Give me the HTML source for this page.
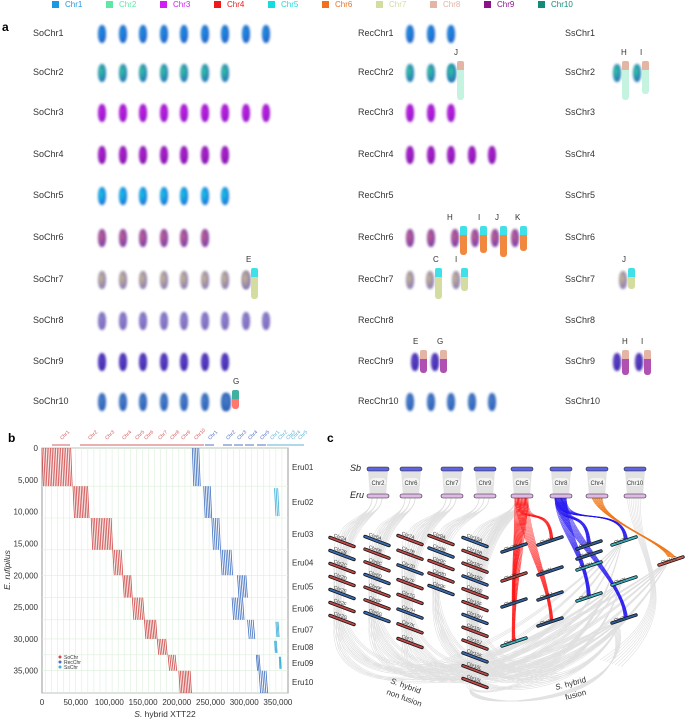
<!DOCTYPE html>
<html><head><meta charset="utf-8"><style>
body{margin:0;background:#fff;width:685px;height:719px;overflow:hidden;position:relative;font-family:"Liberation Sans",Arial,sans-serif}
.lbl{position:absolute;font-size:9px;color:#333}
.pl{position:absolute;font-weight:bold;font-size:12px;color:#000}
.blob{position:absolute;border-radius:45%;filter:blur(1.2px)}
.let{position:absolute;font-size:8px;color:#333}
svg{position:absolute;left:0;top:0}
</style></head><body>
<div id="legend"></div>
<div class="pl" style="left:2px;top:20px">a</div>
<div class="pl" style="left:8px;top:431px">b</div>
<div class="pl" style="left:327px;top:431px">c</div>
<div id="pa"></div>
<svg id="pb" width="685" height="719"></svg>
<svg id="pc" width="685" height="719"></svg>
<script>
const legNames=['Chr1','Chr2','Chr3','Chr4','Chr5','Chr6','Chr7','Chr8','Chr9','Chr10'];
const legColors=['#1e96e6','#5ee8a6','#d21ef2','#f01818','#16dce0','#f07020','#d4dca0','#e4b4a4','#8c128c','#108c78'];
const rowY=[34,73,113,155,196,238,280,321,362,402];
const soCounts=[9,7,9,7,7,6,8,9,7,7];
const recCounts=[3,3,3,5,0,2,1,0,0,5];
const blobCol=[['#1e8ee0','#2050c0'],['#30c8a0','#2050c0'],['#c020e0','#8010c0'],['#b020d0','#7010a0'],['#10c8e8','#2050d0'],['#c06090','#6030b0'],['#c8b890','#7060c0'],['#9080d0','#7060b0'],['#6040c8','#3020a0'],['#4880c8','#2050b0']];
const leg=document.getElementById('legend');
legNames.forEach((n,i)=>{
 const e=document.createElement('div');
 
 
 e.style.cssText=`position:absolute;left:${52+i*54}px;top:0px;font-size:8px;color:${legColors[i]};white-space:nowrap`;
 e.innerHTML=`<span style="display:inline-block;width:7px;height:7px;background:${legColors[i]};margin-right:6px;vertical-align:-1px"></span>${n}`;
 leg.appendChild(e);
});
const pa=document.getElementById('pa');
function add(html,name){const d=document.createElement('div');d.innerHTML=html;const e=d.firstChild;
pa.appendChild(e);return e;}
function blob(x,y,r){return `<div class="blob" style="left:${x-4}px;top:${y-9}px;width:8px;height:18px;background:radial-gradient(ellipse at 40% 40%,${blobCol[r][0]},${blobCol[r][1]})"></div>`;}
function fbar(x,y,top,body,len){return `<div style="position:absolute;left:${x}px;top:${y-12}px;width:7px"><div style="height:9px;background:${top};border-radius:2px 2px 0 0"></div><div style="height:${len}px;background:${body};border-radius:0 0 3px 3px"></div></div>`;}
rowY.forEach((y,r)=>{
 add(`<div class="lbl" style="left:33px;top:${y-6}px">SoChr${r+1}</div>`,'so-label');
 add(`<div class="lbl" style="left:358px;top:${y-6}px">RecChr${r+1}</div>`,'rec-label');
 add(`<div class="lbl" style="left:565px;top:${y-6}px">SsChr${r+1}</div>`,'ss-label');
 for(let k=0;k<soCounts[r];k++) add(blob(102+k*20.5,y,r),'so-chromosome');
 for(let k=0;k<recCounts[r];k++) add(blob(410+k*20.5,y,r),'rec-chromosome');
});
const fb=[
 [251,280,'#40e0e8','#d4dca0',22,'E',6,246],[232,402,'#40b0a0','#ff7870',10,'G',9,233],
 [457,73,'#e4b4a4','#c4f4e0',30,'J',1,454],
 [460,238,'#40e0e8','#f08840',20,'H',5,447],[480,238,'#40e0e8','#f08840',18,'I',5,478],[500,238,'#40e0e8','#f08840',22,'J',5,495],[520,238,'#40e0e8','#f08840',16,'K',5,515],
 [435,280,'#40e0e8','#d4dca0',22,'C',6,433],[461,280,'#40e0e8','#d4dca0',14,'I',6,455],
 [420,362,'#e4b4a4','#b050b0',14,'E',8,413],[440,362,'#e4b4a4','#b050b0',14,'G',8,437],
 [622,73,'#e4b4a4','#c4f4e0',30,'H',1,621],[642,73,'#e4b4a4','#c4f4e0',24,'I',1,640],
 [628,280,'#40e0e8','#d4dca0',12,'J',6,622],
 [622,362,'#e4b4a4','#b050b0',16,'H',8,622],[644,362,'#e4b4a4','#b050b0',16,'I',8,641]];
fb.forEach(f=>{
 add(blob(f[0]-5,f[1],f[6]),'fusion-chromosome');
 add(fbar(f[0],f[1],f[2],f[3],f[4]),'fusion-bar');
 add(`<div class="let" style="left:${f[7]}px;top:${f[1]-25}px">${f[5]}</div>`,'fusion-letter');
});
// ---------- panel b
const NS='http://www.w3.org/2000/svg';
function el(p,t,a,name){const e=document.createElementNS(NS,t);for(const k in a)e.setAttribute(k,a[k]);

p.appendChild(e);return e;}
const pb=document.getElementById('pb');
const X0=42,X1=288,Y0=448,Y1=693,XMAX=365000,YMAX=38500;
const sx=v=>X0+v/XMAX*(X1-X0), sy=v=>Y0+v/YMAX*(Y1-Y0);
const eruNames=['Eru01','Eru02','Eru03','Eru04','Eru05','Eru06','Eru07','Eru08','Eru09','Eru10'];
const eruBounds=[0,6000,11000,16000,20000,23500,27000,30000,32500,35000,38500];
const soStart=[0,46000,73000,105000,120000,134000,152000,171000,187000,203000];
const soEnd=[45000,70000,105000,120000,134000,152000,171000,186000,200000,222000];
const recStart=[223000,240000,252000,265000,290000,282000,305000,0,318000,322000];
const recEnd=[235000,252000,265000,283000,305000,300000,316000,0,324000,335000];
const ssStart=[0,345000,0,0,0,0,347000,345000,352000,0];
const ssEnd=[0,352000,0,0,0,0,352000,349000,355000,0];
const xTicks=[0,50000,100000,150000,200000,250000,300000,350000];
const yTicks=[0,5000,10000,15000,20000,25000,30000,35000];
el(pb,'rect',{x:X0,y:Y0,width:X1-X0,height:Y1-Y0,fill:'#fff',stroke:'#999','stroke-width':1},'plot-area');
for(let v=5000;v<XMAX;v+=9000) el(pb,'line',{x1:sx(v),x2:sx(v),y1:Y0,y2:Y1,stroke:'#dcefdc','stroke-width':0.6},'grid-x');
eruBounds.forEach(v=>el(pb,'line',{x1:X0,x2:X1,y1:sy(v),y2:sy(v),stroke:'#dcefdc','stroke-width':0.6},'grid-y'));
function blk(a,b,y0,y1,col){
 const n=Math.max(3,Math.round((b-a)/2500));
 for(let i=0;i<n;i++){const xa=a+(b-a)*i/n,xb=a+(b-a)*(i+0.9)/n;
  el(pb,'line',{x1:sx(xa),y1:sy(y0),x2:sx(xb),y2:sy(y1),stroke:col,'stroke-width':0.8},'synteny-dots');}
}
for(let i=0;i<10;i++){
 blk(soStart[i],soEnd[i],eruBounds[i],eruBounds[i+1],'#d04848');
 if(recEnd[i]) blk(recStart[i],recEnd[i],eruBounds[i],eruBounds[i+1],'#4070c0');
 if(ssEnd[i]) blk(ssStart[i],ssEnd[i],eruBounds[i]+300,eruBounds[i+1]-300,'#40b0d8');
 el(pb,'text',{x:292,y:(sy(eruBounds[i])+sy(eruBounds[i+1]))/2+3,'font-size':8,fill:'#333'},'eru-label').textContent=eruNames[i];
}
xTicks.forEach(v=>el(pb,'text',{x:sx(v),y:705,'font-size':8,'text-anchor':'middle',fill:'#333'},'x-tick').textContent=v.toLocaleString('en-US'));
yTicks.forEach(v=>el(pb,'text',{x:38,y:sy(v)+3,'font-size':8,'text-anchor':'end',fill:'#333'},'y-tick').textContent=v.toLocaleString('en-US'));
el(pb,'text',{x:165,y:717,'font-size':8.5,'text-anchor':'middle',fill:'#333'},'x-axis-title').innerHTML='<tspan font-style="italic">S.</tspan> hybrid XTT22';
el(pb,'text',{x:10,y:570,'font-size':8.5,'text-anchor':'middle',fill:'#333',transform:'rotate(-90 10 570)','font-style':'italic'},'y-axis-title').textContent='E. rufipilus';
const topX=[62,90,107,124,137,146,160,172,183,196,210,228,239,250,262,272,280,288,293,300];
topX.forEach((x,i)=>{const c=i<10?'#d06060':(i<15?'#5070c0':'#60b0d8');
 el(pb,'line',{x1:x-(i<10?10:5),x2:x+(i<10?8:4),y1:445,y2:445,stroke:c,'stroke-width':1},'chr-track');
 el(pb,'text',{x:x,y:440,'font-size':5,fill:c,transform:`rotate(-45 ${x} 440)`},'chr-track-label').textContent='Chr'+((i<10?i:i<15?i-10:i-15)+1);});
[['SoChr','#d04848'],['RecChr','#4070c0'],['SsChr','#40b0d8']].forEach((l,i)=>{
 el(pb,'circle',{cx:60,cy:657+i*5,r:1.5,fill:l[1]},'legend-dot');
 el(pb,'text',{x:64,y:659+i*5,'font-size':5,fill:'#333'},'legend-label').textContent=l[0];});
// ---------- panel c
const pc=document.getElementById('pc');
const topNames=['Chr2','Chr6','Chr7','Chr9','Chr5','Chr8','Chr4','Chr10'];
const topCx=[378,411,452,485,522,561,597,635];
const colNames=[['2A','2B','2C','2D','2E','2F','2G'],['6A','6B','6C','6D','6E','6F','6G'],['7A','7B','7D','7F','7G','7H','7K','7L'],['9A','9B','9C','9D','9F'],['10A','10B','10C','10D','10E','10F','10H','10I','10J','10K','10L','10L']];
const colX=[330,365,398,429,463];
const colY0=[542,541,540,540,542], colY1=[620,617,643,590,683];
const rightNames=['7C','7E','7I','7J','6H','6I','6J','6K','9E','9G','9H','9I','2H','2I','2J','10G'];
const rightX=[502,502,502,502,538,538,538,538,577,577,577,577,612,612,612,659];
const rightY=[548,577,603,642,541,571,596,622,545,555,566,597,541,581,619,561];
const rightCol=['#3060a0','#c04848','#3060a0','#40b8c8','#3060a0','#3060a0','#3060a0','#3060a0','#3060a0','#3060a0','#40b8c8','#40b8c8','#40b8c8','#40b8c8','#3060a0','#d06050'];
const g=el(pc,'g',{fill:'none',stroke:'#d4d4d4','stroke-width':0.6,opacity:0.7},'gray-ribbons');
colX.forEach((cx,c)=>{const n=colNames[c].length;for(let k=0;k<n;k++){const y=colY0[c]+(colY1[c]-colY0[c])*k/(n-1);
 for(let j=0;j<3;j++){const t=topCx[c]-6+j*5;
  el(g,'path',{d:`M${t},498 C${t},520 ${cx+10},515 ${cx+8+j*3},${y}`},'ribbon');
  el(g,'path',{d:`M${cx+5+j*3},${y} C${cx-10},700 ${cx+120},${712-j*4} ${rightX[15-(k%4)]+10},${rightY[15-(k%4)]}`},'ribbon-arc');}}});
for(let j=0;j<8;j++){el(g,'path',{d:`M${topCx[7]-8+j*2},498 C${topCx[7]},560 690,600 ${600+j*3},${660+j}`},'ribbon');
 el(g,'path',{d:`M${612+j},${625} C640,700 ${500-j*5},${715} ${470},${690}`},'ribbon-arc');}
function bundle(col,fx,tx,ty,n,w){for(let j=0;j<n;j++){const f=fx-w+j*(2*w/n);
 el(pc,'path',{d:`M${f},498 C${f},530 ${tx+10},${ty-40} ${tx+10+j*0.3},${ty}`,fill:'none',stroke:col,'stroke-width':0.4},'colored-ribbon');}}
bundle('#ff1010',522,502,603,12,7);bundle('#ff1010',522,502,642,12,7);bundle('#ff1010',522,540,541,12,7);bundle('#ff1010',522,540,622,12,7);
bundle('#2010f0',561,577,545,14,6);bundle('#2010f0',561,577,597,14,6);bundle('#2010f0',561,614,541,14,6);bundle('#2010f0',561,614,619,14,6);
for(let j=0;j<16;j++)el(pc,'path',{d:`M${592+j*0.7},498 C${600},520 660,540 ${668+j*0.5},557`,fill:'none',stroke:'#f07818','stroke-width':0.5},'colored-ribbon');
topCx.forEach((x,i)=>{
 el(pc,'path',{d:`M${x-10},470 L${x+10},470 L${x+8},496 L${x-8},496Z`,fill:'#e2e2e2'},'sb-eru-link');
 el(pc,'rect',{x:x-11,y:467,width:22,height:4,rx:2,fill:'#6064e0',stroke:'#222','stroke-width':0.6},'sb-bar');
 el(pc,'rect',{x:x-11,y:494,width:22,height:4,rx:2,fill:'#e0b8e8',stroke:'#222','stroke-width':0.6},'eru-bar');
 el(pc,'rect',{x:x-8,y:478,width:16,height:8,rx:4,fill:'#f4f4f4'},'chr-label-bg');
 el(pc,'text',{x:x,y:485,'font-size':6,'text-anchor':'middle',fill:'#333'},'top-chr-label').textContent=topNames[i];});
el(pc,'text',{x:350,y:471,'font-size':9,'font-style':'italic',fill:'#222'},'sb-label').textContent='Sb';
el(pc,'text',{x:350,y:498,'font-size':9,'font-style':'italic',fill:'#222'},'eru-label').textContent='Eru';
function tbar(x,y,dir,col,name){const dy=dir*5;
 el(pc,'line',{x1:x,y1:y-dy,x2:x+24,y2:y+dy,stroke:'#111','stroke-width':3.4,'stroke-linecap':'round'},'chr-bar');
 el(pc,'line',{x1:x,y1:y-dy,x2:x+24,y2:y+dy,stroke:col,'stroke-width':1.8,'stroke-linecap':'round'},'chr-bar-fill');
 el(pc,'text',{x:x+3,y:y-dy-1,'font-size':4.8,fill:'#333',transform:`rotate(${dir*22} ${x+3} ${y-dy})`},'chr-bar-label').textContent='Chr'+name;}
colX.forEach((cx,c)=>{const n=colNames[c].length;for(let k=0;k<n;k++){const y=colY0[c]+(colY1[c]-colY0[c])*k/(n-1);
 tbar(cx,y,0.9,(k+c)%3==1?'#3a6ab0':'#c04848',colNames[c][k]);}});
rightNames.forEach((n,i)=>tbar(rightX[i],rightY[i],-0.8,rightCol[i],n));
el(pc,'text',{x:390,y:683,'font-size':8,fill:'#333',transform:'rotate(20 390 683)'},'non-fusion-label').innerHTML='<tspan font-style="italic">S.</tspan> hybrid';
el(pc,'text',{x:386,y:694,'font-size':8,fill:'#333',transform:'rotate(20 386 694)'},'non-fusion-label2').textContent='non fusion';
el(pc,'text',{x:556,y:690,'font-size':8,fill:'#333',transform:'rotate(-15 556 690)'},'fusion-label').innerHTML='<tspan font-style="italic">S.</tspan> hybrid';
el(pc,'text',{x:566,y:700,'font-size':8,fill:'#333',transform:'rotate(-15 566 700)'},'fusion-label2').textContent='fusion';
</script>
</body></html>
